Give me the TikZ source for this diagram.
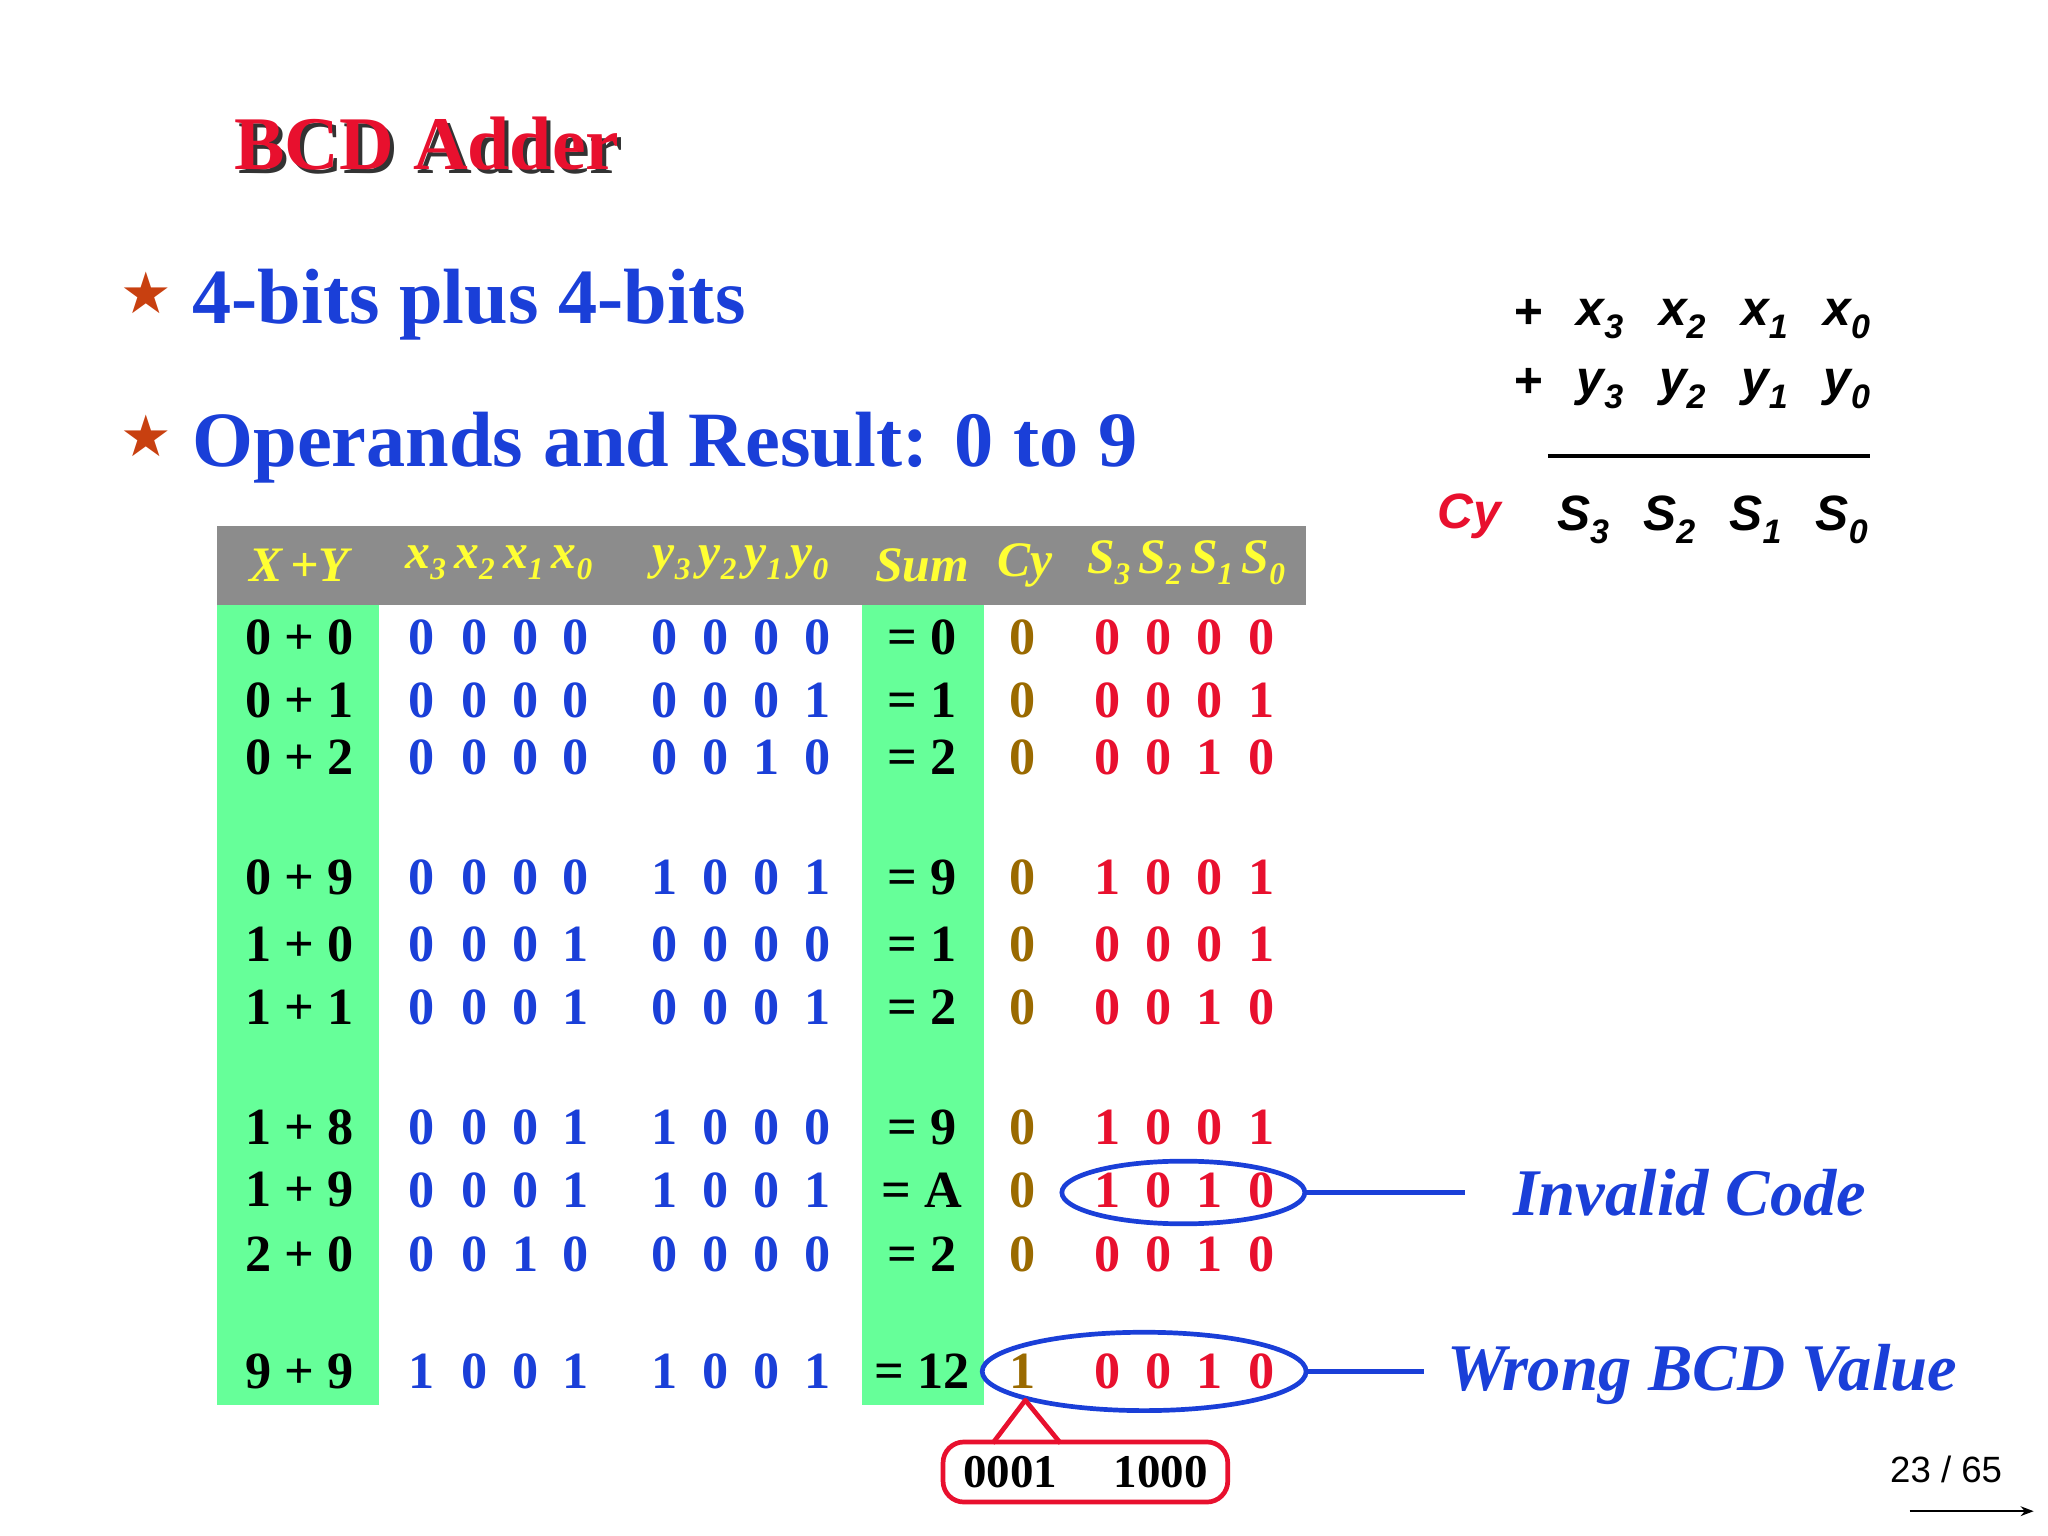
\documentclass[tikz,border=0pt]{standalone}
\usepackage{fontspec}
\setmainfont{Liberation Serif}
\newfontfamily\arialf{Liberation Sans}
\newfontfamily\dejav{DejaVu Sans}
\usetikzlibrary{arrows.meta}
\definecolor{tblue}{HTML}{1A3FD8}
\definecolor{tred}{HTML}{E8102E}
\definecolor{tbrown}{HTML}{9A6A00}
\definecolor{tgreen}{HTML}{66FF99}
\definecolor{tgray}{HTML}{8C8C8C}
\definecolor{tyel}{HTML}{FFFF33}
\definecolor{tstar}{HTML}{C84010}
\newcommand\sbs[1]{\raisebox{-0.5ex}{\fontsize{12}{13}\selectfont#1}}
\tikzset{
 big/.style={font=\fontsize{30}{34}\selectfont\bfseries, text=tblue, anchor=west, inner sep=0},
 dig/.style={font=\fontsize{20}{22}\selectfont\bfseries, inner sep=0},
 hdr/.style={font=\fontsize{19}{22}\selectfont\bfseries\itshape, text=tyel, inner sep=0},
 eq/.style={font=\arialf\fontsize{19}{22}\selectfont\bfseries\itshape, inner sep=0},
 lbl/.style={font=\fontsize{25.5}{28}\selectfont\bfseries\itshape, text=tblue, anchor=west, inner sep=0},
 ov/.style={draw=tblue, line width=1.8pt},
}
\begin{document}
\begin{tikzpicture}[x=0.5pt,y=-0.5pt]
\useasboundingbox (0,0) rectangle (1568,1176);
% title
\node[font=\fontsize{29}{32}\selectfont\bfseries, text=black!80, anchor=west, inner sep=0] at (182,113) {BCD Adder};
\node[font=\fontsize{29}{32}\selectfont\bfseries, text=tred, anchor=west, inner sep=0] (title) at (179,110) {BCD Adder};
% bullets
\node[font=\dejav\fontsize{22}{24}\selectfont, text=tstar] (s1) at (112,224) {★};
\node[big] (b1) at (147,233) {4-bits plus 4-bits};
\node[font=\dejav\fontsize{22}{24}\selectfont, text=tstar] (s2) at (112,334) {★};
\node[big] (b2) at (147,343) {Operands and Result: 0 to 9};
% equation
\node[eq] (p1) at (1170,240) {+};
\node[eq] (p2) at (1170,293) {+};
\foreach \t [count=\i] in {3,2,1,0}{
  \node[eq] (ex\i) at ({1162+63*\i},244) {x\raisebox{-0.5ex}{\fontsize{13}{14}\selectfont\t}};
  \node[eq] (ey\i) at ({1162+63*\i},298) {y\raisebox{-0.5ex}{\fontsize{13}{14}\selectfont\t}};
  \node[eq] (es\i) at ({1146+66*\i},398) {S\raisebox{-0.5ex}{\fontsize{13}{14}\selectfont\t}};
}
\draw[line width=1.5pt] (1185,349) coordinate (l1) -- (1432,349) coordinate (l2);
\node[eq, text=tred] (cy) at (1125,395) {Cy};
% table backgrounds
\fill[tgray] (166,403) rectangle (1000,463);
\fill[tgreen] (166,463) rectangle (290,1076);
\fill[tgreen] (660,463) rectangle (753,1076);
% header
\node[hdr] (h1) at (229,433) {X\,+Y};
\node[hdr] (h2) at (382,431) {x\sbs{3}\,x\sbs{2}\,x\sbs{1}\,x\sbs{0}};
\node[hdr] (h3) at (567,431) {y\sbs{3}\,y\sbs{2}\,y\sbs{1}\,y\sbs{0}};
\node[hdr] (h4) at (706,433) {Sum};
\node[hdr] (h5) at (785,433) {Cy};
\node[hdr] (h6) at (908,431) {S\sbs{3}\,S\sbs{2}\,S\sbs{1}\,S\sbs{0}};
% rows
\foreach \y/\a/\xa/\xb/\xc/\xd/\ya/\yb/\yc/\yd/\s/\c/\sa/\sb/\sc/\sd [count=\r] in {
 488/0 + 0/0/0/0/0/0/0/0/0/= 0/0/0/0/0/0,
 536/0 + 1/0/0/0/0/0/0/0/1/= 1/0/0/0/0/1,
 580/0 + 2/0/0/0/0/0/0/1/0/= 2/0/0/0/1/0,
 672/0 + 9/0/0/0/0/1/0/0/1/= 9/0/1/0/0/1,
 723/1 + 0/0/0/0/1/0/0/0/0/= 1/0/0/0/0/1,
 771/1 + 1/0/0/0/1/0/0/0/1/= 2/0/0/0/1/0,
 863/1 + 8/0/0/0/1/1/0/0/0/= 9/0/1/0/0/1,
 911/1 + 9/0/0/0/1/1/0/0/1/= A/0/1/0/1/0,
 960/2 + 0/0/0/1/0/0/0/0/0/= 2/0/0/0/1/0,
 1050/9 + 9/1/0/0/1/1/0/0/1/= 12/1/0/0/1/0}{
  \node[dig] (a\r) at (229,\y) {\a};
  \node[dig,text=tblue] (xa\r) at (323,\y) {\xa};
  \node[dig,text=tblue] (xb\r) at (363,\y) {\xb};
  \node[dig,text=tblue] (xc\r) at (402,\y) {\xc};
  \node[dig,text=tblue] (xd\r) at (441,\y) {\xd};
  \node[dig,text=tblue] (ya\r) at (509,\y) {\ya};
  \node[dig,text=tblue] (yb\r) at (548,\y) {\yb};
  \node[dig,text=tblue] (yc\r) at (587,\y) {\yc};
  \node[dig,text=tblue] (yd\r) at (626,\y) {\yd};
  \node[dig] (sm\r) at (706,\y) {\s};
  \node[dig,text=tbrown] (cc\r) at (783,\y) {\c};
  \node[dig,text=tred] (sa\r) at (848,\y) {\sa};
  \node[dig,text=tred] (sb\r) at (887,\y) {\sb};
  \node[dig,text=tred] (sc\r) at (926,\y) {\sc};
  \node[dig,text=tred] (sd\r) at (966,\y) {\sd};
}
% annotations
\draw[ov] (906,913) ellipse [x radius=93, y radius=24];
\coordinate (e1) at (1000,913);
\node[lbl] (inv) at (1158,913) {Invalid Code};
\draw[ov] (e1) -- (1122,913) coordinate (e1b);
\draw[ov] (876,1050) ellipse [x radius=124, y radius=30];
\coordinate (e2) at (1000,1050);
\node[lbl] (wr) at (1108,1052) {Wrong BCD Value};
\draw[ov] (e2) -- (1090,1050) coordinate (e2b);
\node[draw=tred, line width=1.8pt, rounded corners=8pt, minimum width=109pt, minimum height=23pt, inner sep=0, font=\fontsize{18}{20}\selectfont\bfseries] (box) at (831,1127) {0001\hspace{1.2em}1000};
\coordinate (tip) at (785,1072);
\draw[tred, line width=1.8pt, line join=round] (760,1105) -- (tip) -- (812,1105);
\node[font=\arialf\fontsize{14}{16}\selectfont, inner sep=0] (pg) at (1490,1125) {23 / 65};
\coordinate (ar1) at (1462,1157);
\coordinate (ar2) at (1557,1157);
\draw[-{Stealth[length=5pt]}, line width=0.6pt] (ar1) -- (ar2);
\end{tikzpicture}
\end{document}
